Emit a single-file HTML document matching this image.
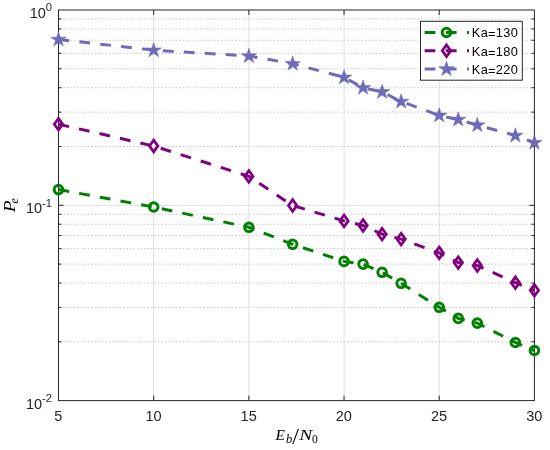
<!DOCTYPE html><html><head><meta charset="utf-8"><style>html,body{margin:0;padding:0;background:#fff;}svg{display:block;}.tk{font-family:"Liberation Sans",Arial,sans-serif;font-size:14.5px;fill:#262626;}.lg{font-family:"Liberation Sans",Arial,sans-serif;font-size:12.8px;letter-spacing:0.3px;fill:#000;}.lb{font-family:"Liberation Serif","DejaVu Serif",serif;font-style:italic;font-size:15.4px;fill:#000;}</style></head><body>
<svg width="550" height="450" viewBox="0 0 550 450">
<rect x="0" y="0" width="550" height="450" fill="#fff"/>
<path d="M58.50 341.81H534.40M58.50 307.42H534.40M58.50 283.02H534.40M58.50 264.09H534.40M58.50 248.63H534.40M58.50 235.55H534.40M58.50 224.23H534.40M58.50 214.24H534.40M58.50 146.51H534.40M58.50 112.12H534.40M58.50 87.72H534.40M58.50 68.79H534.40M58.50 53.33H534.40M58.50 40.25H534.40M58.50 28.93H534.40M58.50 18.94H534.40" stroke="#c0c0c0" stroke-width="1" stroke-dasharray="1.4 2.107" stroke-dashoffset="2.12" fill="none"/>
<path d="M153.68 10.00V400.60M248.86 10.00V400.60M344.04 10.00V400.60M439.22 10.00V400.60M58.50 205.30H534.40" stroke="#dedede" stroke-width="1" fill="none"/>
<path d="M153.68 400.60v-5M153.68 10.00v5M248.86 400.60v-5M248.86 10.00v5M344.04 400.60v-5M344.04 10.00v5M439.22 400.60v-5M439.22 10.00v5M58.50 205.30h5M534.40 205.30h-5M58.50 341.81h3M534.40 341.81h-3M58.50 307.42h3M534.40 307.42h-3M58.50 283.02h3M534.40 283.02h-3M58.50 264.09h3M534.40 264.09h-3M58.50 248.63h3M534.40 248.63h-3M58.50 235.55h3M534.40 235.55h-3M58.50 224.23h3M534.40 224.23h-3M58.50 214.24h3M534.40 214.24h-3M58.50 146.51h3M534.40 146.51h-3M58.50 112.12h3M534.40 112.12h-3M58.50 87.72h3M534.40 87.72h-3M58.50 68.79h3M534.40 68.79h-3M58.50 53.33h3M534.40 53.33h-3M58.50 40.25h3M534.40 40.25h-3M58.50 28.93h3M534.40 28.93h-3M58.50 18.94h3M534.40 18.94h-3" stroke="#262626" stroke-width="1" fill="none"/>
<rect x="58.50" y="10.00" width="475.90" height="390.60" stroke="#262626" stroke-width="1" fill="none"/>
<polyline points="58.50,189.60 153.68,207.00 248.86,227.30 292.64,244.30 344.04,261.40 363.08,264.10 382.11,272.30 401.15,283.30 439.22,307.30 458.26,318.40 477.29,323.10 515.36,342.50 534.40,350.50" stroke="#008000" stroke-width="3.0" stroke-dasharray="10.8 10.2" fill="none"/>
<polyline points="58.50,124.20 153.68,146.00 248.86,176.40 292.64,205.50 344.04,220.90 363.08,225.50 382.11,234.20 401.15,239.10 439.22,252.90 458.26,262.60 477.29,265.50 515.36,282.70 534.40,290.30" stroke="#800080" stroke-width="3.0" stroke-dasharray="10.8 10.2" fill="none"/>
<polyline points="58.50,39.45 153.68,50.20 248.86,56.00 292.64,63.70 344.04,77.30 363.08,87.70 382.11,91.90 401.15,101.50 439.22,115.40 458.26,119.50 477.29,125.10 515.36,135.50 534.40,142.60" stroke="#6f6ab9" stroke-width="3.0" stroke-dasharray="10.8 10.2" fill="none"/>
<circle cx="58.50" cy="189.60" r="4.3" stroke="#008000" stroke-width="3" fill="none"/><circle cx="153.68" cy="207.00" r="4.3" stroke="#008000" stroke-width="3" fill="none"/><circle cx="248.86" cy="227.30" r="4.3" stroke="#008000" stroke-width="3" fill="none"/><circle cx="292.64" cy="244.30" r="4.3" stroke="#008000" stroke-width="3" fill="none"/><circle cx="344.04" cy="261.40" r="4.3" stroke="#008000" stroke-width="3" fill="none"/><circle cx="363.08" cy="264.10" r="4.3" stroke="#008000" stroke-width="3" fill="none"/><circle cx="382.11" cy="272.30" r="4.3" stroke="#008000" stroke-width="3" fill="none"/><circle cx="401.15" cy="283.30" r="4.3" stroke="#008000" stroke-width="3" fill="none"/><circle cx="439.22" cy="307.30" r="4.3" stroke="#008000" stroke-width="3" fill="none"/><circle cx="458.26" cy="318.40" r="4.3" stroke="#008000" stroke-width="3" fill="none"/><circle cx="477.29" cy="323.10" r="4.3" stroke="#008000" stroke-width="3" fill="none"/><circle cx="515.36" cy="342.50" r="4.3" stroke="#008000" stroke-width="3" fill="none"/><circle cx="534.40" cy="350.50" r="4.3" stroke="#008000" stroke-width="3" fill="none"/>
<path d="M58.50,118.35 L62.70,124.20 L58.50,130.05 L54.30,124.20ZM153.68,140.15 L157.88,146.00 L153.68,151.85 L149.48,146.00ZM248.86,170.55 L253.06,176.40 L248.86,182.25 L244.66,176.40ZM292.64,199.65 L296.84,205.50 L292.64,211.35 L288.44,205.50ZM344.04,215.05 L348.24,220.90 L344.04,226.75 L339.84,220.90ZM363.08,219.65 L367.28,225.50 L363.08,231.35 L358.88,225.50ZM382.11,228.35 L386.31,234.20 L382.11,240.05 L377.91,234.20ZM401.15,233.25 L405.35,239.10 L401.15,244.95 L396.95,239.10ZM439.22,247.05 L443.42,252.90 L439.22,258.75 L435.02,252.90ZM458.26,256.75 L462.46,262.60 L458.26,268.45 L454.06,262.60ZM477.29,259.65 L481.49,265.50 L477.29,271.35 L473.09,265.50ZM515.36,276.85 L519.56,282.70 L515.36,288.55 L511.16,282.70ZM534.40,284.45 L538.60,290.30 L534.40,296.15 L530.20,290.30Z" stroke="#800080" stroke-width="2.7" fill="none" stroke-linejoin="miter" stroke-miterlimit="10"/>
<path d="M58.50,31.70 L60.34,37.16 L66.31,37.16 L61.48,40.53 L63.33,45.99 L58.50,42.62 L53.67,45.99 L55.52,40.53 L50.69,37.16 L56.66,37.16ZM153.68,42.45 L155.52,47.91 L161.49,47.91 L156.66,51.28 L158.51,56.74 L153.68,53.37 L148.85,56.74 L150.70,51.28 L145.87,47.91 L151.84,47.91ZM248.86,48.25 L250.70,53.71 L256.67,53.71 L251.84,57.08 L253.69,62.54 L248.86,59.17 L244.03,62.54 L245.88,57.08 L241.05,53.71 L247.02,53.71ZM292.64,55.95 L294.49,61.41 L300.46,61.41 L295.63,64.78 L297.47,70.24 L292.64,66.87 L287.81,70.24 L289.66,64.78 L284.83,61.41 L290.80,61.41ZM344.04,69.55 L345.88,75.01 L351.85,75.01 L347.02,78.38 L348.87,83.84 L344.04,80.47 L339.21,83.84 L341.06,78.38 L336.23,75.01 L342.20,75.01ZM363.08,79.95 L364.92,85.41 L370.89,85.41 L366.06,88.78 L367.91,94.24 L363.08,90.87 L358.25,94.24 L360.09,88.78 L355.26,85.41 L361.23,85.41ZM382.11,84.15 L383.96,89.61 L389.93,89.61 L385.10,92.98 L386.94,98.44 L382.11,95.07 L377.28,98.44 L379.13,92.98 L374.30,89.61 L380.27,89.61ZM401.15,93.75 L402.99,99.21 L408.96,99.21 L404.13,102.58 L405.98,108.04 L401.15,104.67 L396.32,108.04 L398.16,102.58 L393.33,99.21 L399.30,99.21ZM439.22,107.65 L441.06,113.11 L447.03,113.11 L442.20,116.48 L444.05,121.94 L439.22,118.57 L434.39,121.94 L436.24,116.48 L431.41,113.11 L437.38,113.11ZM458.26,111.75 L460.10,117.21 L466.07,117.21 L461.24,120.58 L463.09,126.04 L458.26,122.67 L453.43,126.04 L455.27,120.58 L450.44,117.21 L456.41,117.21ZM477.29,117.35 L479.14,122.81 L485.11,122.81 L480.28,126.18 L482.12,131.64 L477.29,128.27 L472.46,131.64 L474.31,126.18 L469.48,122.81 L475.45,122.81ZM515.36,127.75 L517.21,133.21 L523.18,133.21 L518.35,136.58 L520.19,142.04 L515.36,138.67 L510.53,142.04 L512.38,136.58 L507.55,133.21 L513.52,133.21ZM534.40,134.85 L536.24,140.31 L542.21,140.31 L537.38,143.68 L539.23,149.14 L534.40,145.77 L529.57,149.14 L531.42,143.68 L526.59,140.31 L532.56,140.31Z" fill="#6f6ab9" stroke="#6f6ab9" stroke-width="0.5"/>
<text class="tk" x="58.30" y="421.2" text-anchor="middle">5</text>
<text class="tk" x="153.48" y="421.2" text-anchor="middle">10</text>
<text class="tk" x="248.66" y="421.2" text-anchor="middle">15</text>
<text class="tk" x="343.84" y="421.2" text-anchor="middle">20</text>
<text class="tk" x="439.02" y="421.2" text-anchor="middle">25</text>
<text class="tk" x="534.20" y="421.2" text-anchor="middle">30</text>
<text class="tk" x="52" y="17.90" text-anchor="end">10<tspan dy="-6.7" style="font-size:11.2px">0</tspan></text>
<text class="tk" x="52" y="213.20" text-anchor="end">10<tspan dy="-6.7" style="font-size:11.2px">-1</tspan></text>
<text class="tk" x="52" y="408.50" text-anchor="end">10<tspan dy="-6.7" style="font-size:11.2px">-2</tspan></text>
<text class="lb" x="275.5" y="439.7">E</text>
<text class="lb" x="286" y="442.8" style="font-size:12.5px">b</text>
<text class="lb" x="292.3" y="443.6" style="font-size:24px;font-style:normal">/</text>
<text class="lb" x="299.3" y="439.7" textLength="13" lengthAdjust="spacingAndGlyphs">N</text>
<text class="lb" x="312.1" y="442.8" style="font-size:11.5px;font-style:normal">0</text>
<g transform="translate(15.3,212.2) rotate(-90)"><text class="lb" x="0" y="0" style="font-size:16.5px" textLength="11.8" lengthAdjust="spacingAndGlyphs">P</text><text class="lb" x="8.8" y="2.6" style="font-size:12px">e</text></g>
<rect x="420.5" y="21.3" width="101.8" height="58.9" fill="#fff" stroke="#262626" stroke-width="1"/>
<path d="M424.6 32.5H469" stroke="#008000" stroke-width="3.0" stroke-dasharray="10.8 10.4" fill="none"/>
<circle cx="446.5" cy="32.5" r="4.3" stroke="#008000" stroke-width="3" fill="none"/>
<text class="lg" x="471.8" y="37.40">Ka<tspan dy="0.8">=</tspan><tspan dy="-0.8">130</tspan></text>
<path d="M424.6 50.8H469" stroke="#800080" stroke-width="3.0" stroke-dasharray="10.8 10.4" fill="none"/>
<path d="M446.50,44.95 L450.70,50.80 L446.50,56.65 L442.30,50.80Z" stroke="#800080" stroke-width="2.8" fill="none"/>
<text class="lg" x="471.8" y="55.70">Ka<tspan dy="0.8">=</tspan><tspan dy="-0.8">180</tspan></text>
<path d="M424.6 69.0H469" stroke="#6f6ab9" stroke-width="3.0" stroke-dasharray="10.8 10.4" fill="none"/>
<path d="M446.50,61.25 L448.34,66.71 L454.31,66.71 L449.48,70.08 L451.33,75.54 L446.50,72.17 L441.67,75.54 L443.52,70.08 L438.69,66.71 L444.66,66.71Z" fill="#6f6ab9" stroke="#6f6ab9" stroke-width="0.5"/>
<text class="lg" x="471.8" y="73.90">Ka<tspan dy="0.8">=</tspan><tspan dy="-0.8">220</tspan></text>
</svg></body></html>
